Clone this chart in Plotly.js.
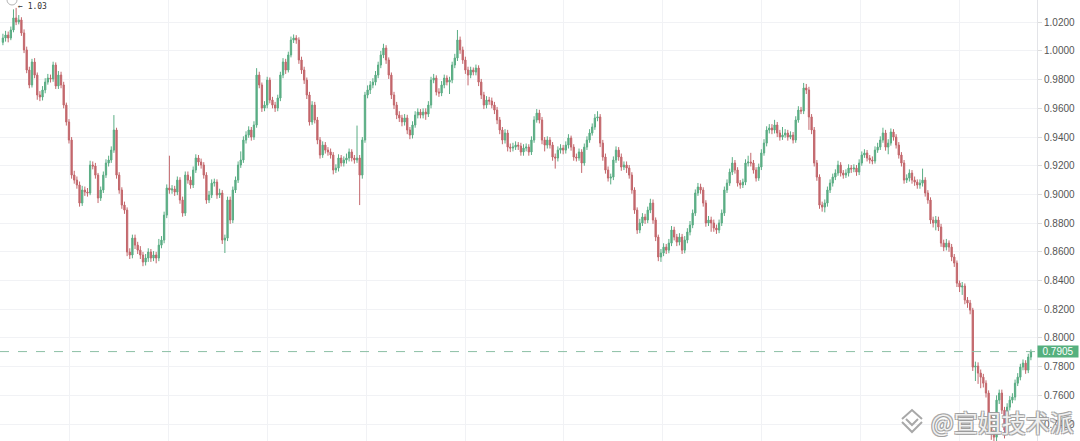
<!DOCTYPE html>
<html>
<head>
<meta charset="utf-8">
<script src="https://cdn.plot.ly/plotly-3.0.1.min.js"></script>
<style>html,body{margin:0;padding:0;background:#fff;}#chart{width:1080px;height:441px;}</style>
</head>
<body>
<div id="chart"></div>
<script>
// Price data (one candle per entry)
const open = [
1.0060,1.0090,1.0111,1.0090,1.0146,1.0230,1.0202,1.0216,1.0125,1.0007,
0.9867,0.9763,0.9923,0.9832,0.9693,0.9679,0.9728,0.9783,0.9811,0.9805,
0.9902,0.9756,0.9832,0.9763,0.9623,0.9505,0.9379,0.9135,0.9100,0.9066,
0.8940,0.9031,0.9017,0.9010,0.9205,0.9198,0.9135,0.8975,0.9031,0.9135,
0.9219,0.9240,0.9309,0.9449,0.9135,0.9031,0.8926,0.8891,0.8599,0.8578,
0.8696,0.8647,0.8612,0.8578,0.8529,0.8557,0.8599,0.8557,0.8578,0.8557,
0.8647,0.8682,0.8856,
0.9045,0.9031,0.9038,0.9017,0.9100,0.8961,0.8870,0.9135,0.9100,0.9066,
0.9170,0.9254,0.9226,0.9205,0.9135,0.8961,0.8996,0.9079,0.9086,0.8996,
0.9010,0.8682,0.8696,0.8961,0.8822,0.9031,0.9100,0.9205,0.9240,0.9379,
0.9414,0.9449,0.9400,0.9484,0.9832,0.9763,0.9602,0.9623,0.9797,0.9658,
0.9623,0.9602,0.9672,0.9832,0.9923,0.9867,0.9972,1.0076,1.0090,1.0076,
0.9937,0.9867,0.9797,0.9693,0.9505,0.9623,0.9519,0.9379,0.9275,0.9344,
0.9309,0.9296,0.9275,0.9170,0.9184,
0.9254,0.9219,0.9240,0.9254,0.9296,0.9254,0.9240,0.9254,0.9135,0.9379,
0.9693,0.9728,0.9763,0.9783,0.9832,0.9902,0.9972,1.0020,0.9937,0.9832,
0.9693,0.9623,0.9553,0.9533,0.9505,0.9533,0.9449,0.9414,0.9484,0.9553,
0.9574,0.9553,0.9574,0.9560,0.9623,0.9797,0.9811,0.9714,0.9707,0.9763,
0.9811,0.9783,0.9797,0.9902,0.9951,1.0076,1.0007,0.9937,0.9867,0.9832,
0.9867,0.9853,0.9881,0.9783,0.9693,0.9623,0.9658,0.9651,0.9623,0.9588,
0.9519,
0.9449,0.9379,0.9428,0.9330,0.9323,0.9330,0.9344,0.9337,0.9296,0.9323,
0.9330,0.9296,0.9379,0.9519,0.9567,0.9519,0.9379,0.9344,0.9379,0.9344,
0.9261,0.9254,0.9309,0.9323,0.9309,0.9344,0.9393,0.9330,0.9261,0.9254,
0.9296,0.9219,0.9330,0.9379,0.9428,0.9470,0.9533,0.9540,0.9358,0.9261,
0.9170,0.9114,0.9121,0.9240,0.9309,0.9261,0.9191,0.9205,0.9184,0.9135,
0.9031,0.8891,0.8752,0.8801,0.8843,0.8822,0.8891,0.8940,0.8822,0.8703,
0.8564,0.8592,0.8633,0.8612,0.8661,0.8752,
0.8703,0.8668,0.8703,0.8612,0.8682,0.8738,0.8787,0.8870,0.9010,0.9052,
0.9031,0.8940,0.8801,0.8822,0.8801,0.8766,0.8752,0.8801,0.8870,0.9031,
0.9079,0.9156,0.9219,0.9170,0.9079,0.9066,0.9086,0.9219,0.9226,0.9219,
0.9170,0.9114,0.9191,0.9289,0.9358,0.9449,0.9463,0.9449,0.9484,0.9428,
0.9400,0.9414,0.9428,0.9400,0.9414,0.9379,0.9519,0.9588,0.9581,0.9742,
0.9728,0.9540,0.9449,0.9219,0.9121,0.8926,0.8912,0.8940,0.9031,0.9079,
0.9121,0.9149,0.9205,0.9149,0.9135,0.9149,0.9184,
0.9177,0.9184,0.9156,0.9219,0.9275,0.9289,0.9254,0.9240,0.9233,0.9309,
0.9330,0.9379,0.9428,0.9330,0.9358,0.9435,0.9400,0.9344,0.9275,0.9219,
0.9100,0.9114,0.9149,0.9100,0.9086,0.9066,0.9079,0.9100,0.9010,0.8961,
0.8822,0.8801,0.8822,0.8773,0.8661,0.8633,0.8661,0.8633,0.8564,0.8522,
0.8382,0.8355,0.8362,0.8264,0.8243,0.8194,0.7797,0.7804,0.7755,0.7727,
0.7685,0.7616,0.7449,0.7337,0.7309,0.7567,0.7616,0.7497,0.7358,0.7518,
0.7567,0.7588,0.7685,0.7727,0.7797,0.7825,0.7776,0.7867
];
const high = [
1.0120,1.0140,1.0135,1.0170,1.0290,1.0300,1.0250,1.0235,1.0150,1.0030,
0.9890,0.9945,0.9950,0.9850,0.9720,0.9755,0.9810,0.9840,0.9835,0.9925,
0.9920,0.9860,0.9855,0.9785,0.9640,0.9525,0.9400,0.9165,0.9125,0.9090,
0.9060,0.9055,0.9045,0.9235,0.9230,0.9220,0.9150,0.9055,0.9160,0.9245,
0.9270,0.9335,0.9553,0.9465,0.9155,0.9050,0.8950,0.8910,0.8625,0.8720,
0.8720,0.8670,0.8640,0.8600,0.8585,0.8625,0.8620,0.8605,0.8600,0.8690,
0.8710,0.8880,0.9070,
0.9270,0.9065,0.9060,0.9125,0.9120,0.8985,0.9160,0.9160,0.9125,0.9195,
0.9280,0.9275,0.9250,0.9225,0.9155,0.9025,0.9105,0.9110,0.9105,0.9040,
0.9030,0.8720,0.8985,0.8985,0.9055,0.9125,0.9230,0.9300,0.9405,0.9440,
0.9475,0.9470,0.9510,0.9880,0.9855,0.9780,0.9650,0.9820,0.9815,0.9680,
0.9645,0.9695,0.9855,0.9950,0.9945,0.9995,1.0100,1.0115,1.0110,1.0095,
0.9960,0.9890,0.9815,0.9715,0.9650,0.9645,0.9540,0.9400,0.9370,0.9365,
0.9330,0.9320,0.9295,0.9210,0.9280,
0.9275,0.9265,0.9285,0.9320,0.9315,0.9275,0.9480,0.9275,0.9400,0.9715,
0.9760,0.9790,0.9810,0.9860,0.9925,1.0000,1.0050,1.0040,0.9955,0.9850,
0.9715,0.9645,0.9580,0.9555,0.9560,0.9555,0.9470,0.9510,0.9580,0.9600,
0.9595,0.9600,0.9600,0.9650,0.9820,0.9840,0.9830,0.9740,0.9790,0.9835,
0.9830,0.9820,0.9925,0.9980,1.0146,1.0100,1.0030,0.9960,0.9890,0.9890,
0.9885,0.9905,0.9900,0.9805,0.9715,0.9685,0.9680,0.9675,0.9645,0.9610,
0.9540,
0.9470,0.9455,0.9450,0.9355,0.9360,0.9370,0.9365,0.9360,0.9350,0.9355,
0.9350,0.9405,0.9545,0.9595,0.9590,0.9540,0.9400,0.9405,0.9400,0.9365,
0.9285,0.9335,0.9350,0.9345,0.9370,0.9420,0.9410,0.9350,0.9285,0.9320,
0.9315,0.9355,0.9405,0.9455,0.9495,0.9560,0.9580,0.9560,0.9380,0.9285,
0.9195,0.9145,0.9265,0.9335,0.9330,0.9285,0.9230,0.9230,0.9205,0.9155,
0.9050,0.8910,0.8830,0.8870,0.8865,0.8915,0.8970,0.8965,0.8840,0.8720,
0.8620,0.8660,0.8655,0.8690,0.8780,0.8775,
0.8725,0.8730,0.8725,0.8710,0.8765,0.8815,0.8895,0.9035,0.9080,0.9075,
0.9050,0.8960,0.8850,0.8845,0.8825,0.8790,0.8825,0.8895,0.9055,0.9105,
0.9180,0.9260,0.9240,0.9190,0.9100,0.9110,0.9245,0.9270,0.9290,0.9240,
0.9190,0.9215,0.9315,0.9385,0.9475,0.9490,0.9490,0.9520,0.9505,0.9450,
0.9470,0.9455,0.9450,0.9440,0.9435,0.9545,0.9615,0.9610,0.9777,0.9770,
0.9750,0.9560,0.9470,0.9240,0.9140,0.8950,0.8965,0.9055,0.9105,0.9145,
0.9175,0.9235,0.9225,0.9170,0.9175,0.9210,0.9205,
0.9210,0.9205,0.9245,0.9300,0.9315,0.9310,0.9275,0.9265,0.9335,0.9360,
0.9405,0.9465,0.9450,0.9385,0.9460,0.9455,0.9420,0.9365,0.9295,0.9240,
0.9140,0.9175,0.9170,0.9125,0.9105,0.9105,0.9180,0.9120,0.9030,0.8980,
0.8845,0.8850,0.8845,0.8795,0.8685,0.8690,0.8680,0.8655,0.8585,0.8540,
0.8400,0.8390,0.8380,0.8285,0.8265,0.8210,0.7835,0.7830,0.7780,0.7750,
0.7705,0.7635,0.7470,0.7360,0.7600,0.7640,0.7640,0.7520,0.7545,0.7595,
0.7615,0.7710,0.7755,0.7820,0.7850,0.7845,0.7890,0.7920
];
const low = [
1.0040,1.0065,1.0060,1.0075,1.0130,1.0180,1.0185,1.0105,0.9985,0.9845,
0.9740,0.9745,0.9810,0.9660,0.9650,0.9655,0.9705,0.9765,0.9780,0.9785,
0.9735,0.9735,0.9740,0.9600,0.9480,0.9355,0.9110,0.9075,0.9040,0.8915,
0.8920,0.8990,0.8985,0.8995,0.9175,0.9110,0.8940,0.8955,0.9010,0.9115,
0.9195,0.9220,0.9290,0.9110,0.9005,0.8900,0.8865,0.8570,0.8550,0.8555,
0.8620,0.8585,0.8550,0.8500,0.8505,0.8530,0.8530,0.8535,0.8520,0.8535,
0.8625,0.8660,0.8835,
0.9005,0.9005,0.8990,0.8995,0.8935,0.8845,0.8850,0.9075,0.9040,0.9045,
0.9150,0.9200,0.9180,0.9110,0.8935,0.8940,0.8975,0.9055,0.8970,0.8975,
0.8655,0.8592,0.8675,0.8795,0.8800,0.9010,0.9080,0.9185,0.9220,0.9355,
0.9395,0.9375,0.9380,0.9465,0.9740,0.9575,0.9580,0.9600,0.9635,0.9600,
0.9575,0.9580,0.9650,0.9810,0.9840,0.9850,0.9955,1.0055,1.0050,0.9910,
0.9840,0.9770,0.9665,0.9480,0.9485,0.9495,0.9350,0.9250,0.9255,0.9285,
0.9270,0.9250,0.9140,0.9150,0.9160,
0.9195,0.9195,0.9215,0.9230,0.9230,0.9215,0.9220,0.8926,0.9110,0.9360,
0.9670,0.9700,0.9740,0.9760,0.9810,0.9880,0.9950,0.9910,0.9805,0.9665,
0.9595,0.9525,0.9505,0.9475,0.9480,0.9420,0.9385,0.9390,0.9465,0.9530,
0.9530,0.9530,0.9520,0.9540,0.9600,0.9775,0.9690,0.9680,0.9685,0.9740,
0.9760,0.9700,0.9775,0.9880,0.9930,0.9980,0.9910,0.9840,0.9760,0.9810,
0.9830,0.9830,0.9755,0.9665,0.9595,0.9600,0.9625,0.9600,0.9560,0.9490,
0.9420,
0.9350,0.9355,0.9300,0.9295,0.9300,0.9310,0.9310,0.9270,0.9270,0.9300,
0.9270,0.9275,0.9360,0.9500,0.9495,0.9350,0.9300,0.9320,0.9320,0.9235,
0.9180,0.9230,0.9285,0.9280,0.9285,0.9320,0.9305,0.9235,0.9230,0.9235,
0.9150,0.9200,0.9310,0.9360,0.9410,0.9450,0.9510,0.9330,0.9235,0.9145,
0.9090,0.9070,0.9100,0.9220,0.9235,0.9165,0.9170,0.9150,0.9110,0.9005,
0.8865,0.8725,0.8730,0.8780,0.8795,0.8800,0.8870,0.8795,0.8675,0.8535,
0.8530,0.8570,0.8585,0.8590,0.8640,0.8680,
0.8640,0.8645,0.8585,0.8590,0.8660,0.8715,0.8765,0.8850,0.8990,0.9005,
0.8915,0.8775,0.8780,0.8740,0.8740,0.8725,0.8730,0.8780,0.8850,0.9010,
0.9060,0.9135,0.9145,0.9055,0.9040,0.9045,0.9065,0.9195,0.9195,0.9145,
0.9090,0.9095,0.9170,0.9270,0.9335,0.9425,0.9420,0.9425,0.9400,0.9375,
0.9380,0.9395,0.9375,0.9385,0.9355,0.9360,0.9500,0.9560,0.9560,0.9700,
0.9450,0.9420,0.9195,0.9095,0.8900,0.8880,0.8875,0.8915,0.9010,0.9055,
0.9100,0.9130,0.9125,0.9110,0.9115,0.9125,0.9150,
0.9155,0.9130,0.9135,0.9200,0.9255,0.9230,0.9215,0.9210,0.9215,0.9290,
0.9310,0.9360,0.9305,0.9280,0.9340,0.9375,0.9320,0.9250,0.9195,0.9075,
0.9080,0.9090,0.9075,0.9060,0.9040,0.9040,0.9055,0.8985,0.8935,0.8795,
0.8770,0.8750,0.8745,0.8635,0.8605,0.8610,0.8600,0.8535,0.8495,0.8355,
0.8320,0.8300,0.8235,0.8210,0.8165,0.7770,0.7700,0.7680,0.7650,0.7655,
0.7585,0.7420,0.7290,0.7250,0.7280,0.7540,0.7470,0.7300,0.7335,0.7495,
0.7545,0.7565,0.7665,0.7705,0.7775,0.7750,0.7755,0.7845
];
const close = [
1.0090,1.0111,1.0090,1.0146,1.0230,1.0202,1.0216,1.0125,1.0007,0.9867,
0.9763,0.9923,0.9832,0.9693,0.9679,0.9728,0.9783,0.9811,0.9805,0.9902,
0.9756,0.9832,0.9763,0.9623,0.9505,0.9379,0.9135,0.9100,0.9066,0.8940,
0.9031,0.9017,0.9010,0.9205,0.9198,0.9135,0.8975,0.9031,0.9135,0.9219,
0.9240,0.9309,0.9449,0.9135,0.9031,0.8926,0.8891,0.8599,0.8578,0.8696,
0.8647,0.8612,0.8578,0.8529,0.8557,0.8599,0.8557,0.8578,0.8557,0.8647,
0.8682,0.8856,0.9045,
0.9031,0.9038,0.9017,0.9100,0.8961,0.8870,0.9135,0.9100,0.9066,0.9170,
0.9254,0.9226,0.9205,0.9135,0.8961,0.8996,0.9079,0.9086,0.8996,0.9010,
0.8682,0.8696,0.8961,0.8822,0.9031,0.9100,0.9205,0.9240,0.9379,0.9414,
0.9449,0.9400,0.9484,0.9832,0.9763,0.9602,0.9623,0.9797,0.9658,0.9623,
0.9602,0.9672,0.9832,0.9923,0.9867,0.9972,1.0076,1.0090,1.0076,0.9937,
0.9867,0.9797,0.9693,0.9505,0.9623,0.9519,0.9379,0.9275,0.9344,0.9309,
0.9296,0.9275,0.9170,0.9184,0.9254,
0.9219,0.9240,0.9254,0.9296,0.9254,0.9240,0.9254,0.9135,0.9379,0.9693,
0.9728,0.9763,0.9783,0.9832,0.9902,0.9972,1.0020,0.9937,0.9832,0.9693,
0.9623,0.9553,0.9533,0.9505,0.9533,0.9449,0.9414,0.9484,0.9553,0.9574,
0.9553,0.9574,0.9560,0.9623,0.9797,0.9811,0.9714,0.9707,0.9763,0.9811,
0.9783,0.9797,0.9902,0.9951,1.0076,1.0007,0.9937,0.9867,0.9832,0.9867,
0.9853,0.9881,0.9783,0.9693,0.9623,0.9658,0.9651,0.9623,0.9588,0.9519,
0.9449,
0.9379,0.9428,0.9330,0.9323,0.9330,0.9344,0.9337,0.9296,0.9323,0.9330,
0.9296,0.9379,0.9519,0.9567,0.9519,0.9379,0.9344,0.9379,0.9344,0.9261,
0.9254,0.9309,0.9323,0.9309,0.9344,0.9393,0.9330,0.9261,0.9254,0.9296,
0.9219,0.9330,0.9379,0.9428,0.9470,0.9533,0.9540,0.9358,0.9261,0.9170,
0.9114,0.9121,0.9240,0.9309,0.9261,0.9191,0.9205,0.9184,0.9135,0.9031,
0.8891,0.8752,0.8801,0.8843,0.8822,0.8891,0.8940,0.8822,0.8703,0.8564,
0.8592,0.8633,0.8612,0.8661,0.8752,0.8703,
0.8668,0.8703,0.8612,0.8682,0.8738,0.8787,0.8870,0.9010,0.9052,0.9031,
0.8940,0.8801,0.8822,0.8801,0.8766,0.8752,0.8801,0.8870,0.9031,0.9079,
0.9156,0.9219,0.9170,0.9079,0.9066,0.9086,0.9219,0.9226,0.9219,0.9170,
0.9114,0.9191,0.9289,0.9358,0.9449,0.9463,0.9449,0.9484,0.9428,0.9400,
0.9414,0.9428,0.9400,0.9414,0.9379,0.9519,0.9588,0.9581,0.9742,0.9728,
0.9540,0.9449,0.9219,0.9121,0.8926,0.8912,0.8940,0.9031,0.9079,0.9121,
0.9149,0.9205,0.9149,0.9135,0.9149,0.9184,0.9177,
0.9184,0.9156,0.9219,0.9275,0.9289,0.9254,0.9240,0.9233,0.9309,0.9330,
0.9379,0.9428,0.9330,0.9358,0.9435,0.9400,0.9344,0.9275,0.9219,0.9100,
0.9114,0.9149,0.9100,0.9086,0.9066,0.9079,0.9100,0.9010,0.8961,0.8822,
0.8801,0.8822,0.8773,0.8661,0.8633,0.8661,0.8633,0.8564,0.8522,0.8382,
0.8355,0.8362,0.8264,0.8243,0.8194,0.7797,0.7804,0.7755,0.7727,0.7685,
0.7616,0.7449,0.7337,0.7309,0.7567,0.7616,0.7497,0.7358,0.7518,0.7567,
0.7588,0.7685,0.7727,0.7797,0.7825,0.7776,0.7867,0.7905
];
const lastPrice = 0.7905;
const lastPriceLabel = '0.7905';
const highMarkLabel = '← 1.03';
const watermarkText = '@宣姐技术派';

const idx = close.map((_, i) => i);

const trace = {
  type: 'candlestick',
  x: idx, open: open, high: high, low: low, close: close,
  increasing: {line: {color: '#5aad84', width: 1}, fillcolor: '#5aad84'},
  decreasing: {line: {color: '#c3676c', width: 1}, fillcolor: '#c3676c'},
  whiskerwidth: 0,
  hoverinfo: 'skip'
};

// plot area: x 0..1037 px, y 0..441 px
const PW = 1037, PH = 441;
const px = v => v / PW;
const py = v => 1 - v / PH;

const layout = {
  width: 1080, height: 441,
  margin: {l: 0, r: 43, t: 0, b: 0, pad: 0},
  paper_bgcolor: '#ffffff', plot_bgcolor: '#ffffff',
  showlegend: false, hovermode: false,
  xaxis: {
    range: [-1.1, 391.3], rangeslider: {visible: false},
    showticklabels: false, ticks: '', showgrid: true, gridcolor: '#f1f2f5', gridwidth: 1,
    tick0: 25.3, dtick: 37.4, zeroline: false, showline: false
  },
  yaxis: {
    side: 'right', range: [0.7282, 1.0355], tick0: 0.70, dtick: 0.02, tickformat: '.4f',
    showgrid: true, gridcolor: '#f1f2f5', gridwidth: 1, zeroline: false,
    showline: true, linecolor: '#e3e4e8', linewidth: 1,
    ticks: 'outside', ticklen: 4, tickcolor: '#dcdcdc',
    tickfont: {family: 'Liberation Sans, Arial, sans-serif', size: 10, color: '#555555'}
  },
  shapes: [
    {type: 'line', xref: 'paper', yref: 'y', x0: 0, x1: 1, y0: lastPrice, y1: lastPrice,
     line: {color: '#8dbfa5', width: 1, dash: 'dash'}},
    {type: 'circle', xref: 'paper', yref: 'paper', x0: px(7), x1: px(17), y0: py(5), y1: py(-5),
     line: {color: '#b5b5b5', width: 1}},
    {type: 'path', xref: 'paper', yref: 'paper',
     path: 'M ' + px(902) + ' ' + py(419) + ' L ' + px(912) + ' ' + py(410) + ' L ' + px(922) + ' ' + py(419) +
           ' M ' + px(902) + ' ' + py(422) + ' L ' + px(912) + ' ' + py(432) + ' L ' + px(922) + ' ' + py(422) +
           ' M ' + px(906) + ' ' + py(419) + ' L ' + px(912) + ' ' + py(425) + ' L ' + px(918) + ' ' + py(419),
     line: {color: '#a8a8a8', width: 2}}
  ],
  annotations: [
    {xref: 'paper', yref: 'y', x: 1, y: lastPrice, xanchor: 'left', yanchor: 'middle',
     text: lastPriceLabel, showarrow: false, bgcolor: '#55b07e', width: 40, height: 11,
     borderpad: 0, font: {family: 'Liberation Sans, Arial, sans-serif', size: 10, color: '#ffffff'}},
    {xref: 'paper', yref: 'paper', x: px(16), y: py(7), xanchor: 'left', yanchor: 'middle',
     text: highMarkLabel, showarrow: false,
     font: {family: 'DejaVu Sans Mono, monospace', size: 8, color: '#333333'}},
    {xref: 'paper', yref: 'paper', x: px(929), y: py(421), xanchor: 'left', yanchor: 'middle',
     text: watermarkText, showarrow: false,
     font: {family: 'Noto Sans CJK SC, sans-serif', size: 24, color: 'rgba(255,255,255,0.85)',
            shadow: '-1px -1px 0 #9c9c9c, 1px -1px 0 #9c9c9c, -1px 1px 0 #9c9c9c, 1px 1px 0 #9c9c9c'}}
  ]
};

Plotly.newPlot('chart', [trace], layout, {staticPlot: true, displayModeBar: false});
</script>
</body>
</html>
